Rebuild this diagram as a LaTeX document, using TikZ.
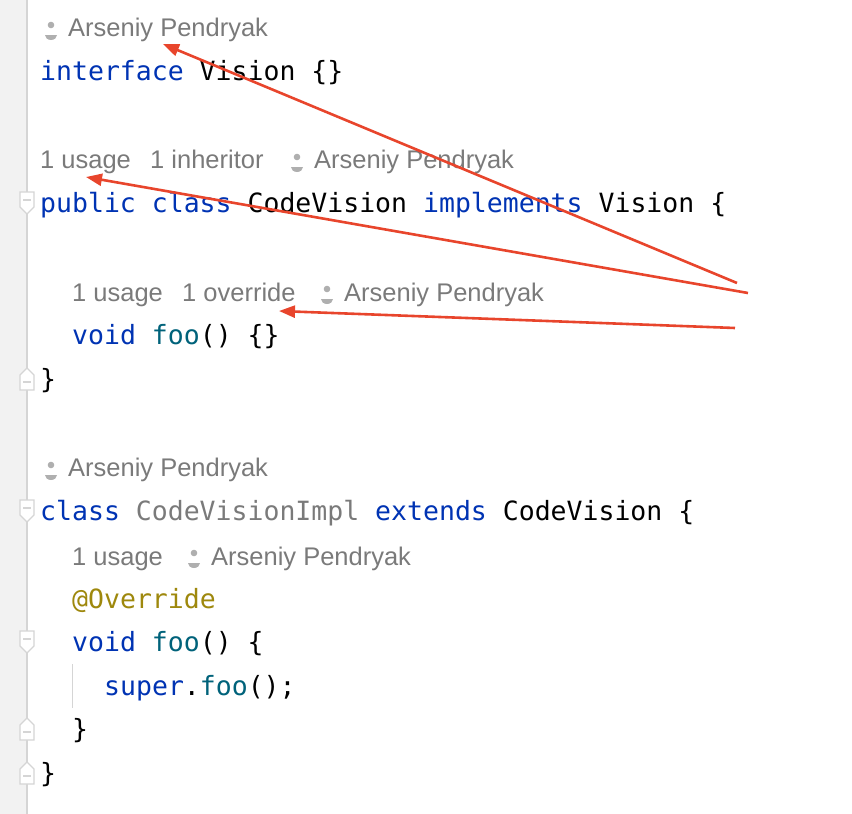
\documentclass[tikz,border=0pt]{standalone}
\usepackage{fontspec}
\setmainfont{Liberation Sans}
\newfontfamily\codefont{DejaVu Sans Mono}
\usetikzlibrary{arrows.meta}
\definecolor{kw}{HTML}{0033B3}
\definecolor{fn}{HTML}{00627A}
\definecolor{hint}{HTML}{7A7A7A}
\definecolor{ann}{HTML}{9E880D}
\definecolor{arr}{HTML}{E8452C}
\definecolor{gut}{HTML}{F2F2F2}
\definecolor{gline}{HTML}{D5D5D5}
\tikzset{
 code/.style={anchor=base west,inner sep=0pt,font=\codefont\fontsize{26.5}{26.5}\selectfont},
 hnt/.style={anchor=base west,inner sep=0pt,text=hint,font=\fontsize{25.5}{25.5}\selectfont},
 pointer/.style={draw=arr,line width=2.6pt,-{Triangle[length=16pt,width=12pt]}},
 fold/.style={draw=gline,fill=white,line width=1.2pt},
}
\newcommand{\person}[2]{\fill[hint!60] (#1,#2-3) circle (3.3) (#1-6,#2+7) arc(180:0:6 and 5) -- cycle;}
\newcommand{\foldtop}[1]{\draw[fold] (20,#1-11) -- (34,#1-11) -- (34,#1+4) -- (27,#1+11) -- (20,#1+4) -- cycle; \draw[gline,line width=1.2pt] (23,#1-3) -- (31,#1-3);}
\newcommand{\foldbot}[1]{\draw[fold] (20,#1+11) -- (34,#1+11) -- (34,#1-4) -- (27,#1-11) -- (20,#1-4) -- cycle; \draw[gline,line width=1.2pt] (23,#1+3) -- (31,#1+3);}
\begin{document}
\begin{tikzpicture}[x=1pt,y=-1pt]
\useasboundingbox (0,0) rectangle (852,814);
\fill[gut] (0,0) rectangle (27,814);
\draw[gline,line width=1.5pt] (27,0) -- (27,814);
\draw[gline,line width=1pt] (72,664) -- (72,708);
\foldtop{203}\foldbot{379}\foldtop{511}\foldtop{642}\foldbot{729}\foldbot{773}
% hints
\person{51}{28}
\node[hnt] (h1) at (68,36) {Arseniy Pendryak};
\node[hnt] (h2) at (40,168) {1 usage};
\node[hnt] (h3) at (150,168) {1 inheritor};
\person{297}{160}
\node[hnt] (h4) at (314,168) {Arseniy Pendryak};
\node[hnt] (h5) at (72,301) {1 usage};
\node[hnt] (h6) at (182,301) {1 override};
\person{327}{292}
\node[hnt] (h7) at (344,301) {Arseniy Pendryak};
\person{51}{468}
\node[hnt] (h8) at (68,476) {Arseniy Pendryak};
\node[hnt] (h9) at (72,565) {1 usage};
\person{194}{556}
\node[hnt] (h10) at (211,565) {Arseniy Pendryak};
% code
\node[code] (c1) at (40,80) {\textcolor{kw}{interface} Vision \{\}};
\node[code] (c2) at (40,212) {\textcolor{kw}{public class} CodeVision \textcolor{kw}{implements} Vision \{};
\node[code] (c3) at (72,344) {\textcolor{kw}{void} \textcolor{fn}{foo}() \{\}};
\node[code] (c4) at (40,388) {\}};
\node[code] (c5) at (40,520) {\textcolor{kw}{class} \textcolor{hint}{CodeVisionImpl} \textcolor{kw}{extends} CodeVision \{};
\node[code] (c6) at (72,608) {\textcolor{ann}{@Override}};
\node[code] (c7) at (72,651) {\textcolor{kw}{void} \textcolor{fn}{foo}() \{};
\node[code] (c8) at (104,695) {\textcolor{kw}{super}.\textcolor{fn}{foo}();};
\node[code] (c9) at (72,738) {\}};
\node[code] (c10) at (40,782) {\}};
% arrows
\coordinate (s1) at (737,283); \coordinate (t1) at (163,44);
\coordinate (s2) at (748,293); \coordinate (t2) at (86,177);
\coordinate (s3) at (735,328); \coordinate (t3) at (279,311);
\draw[pointer] (s1) -- (t1);
\draw[pointer] (s2) -- (t2);
\draw[pointer] (s3) -- (t3);
\end{tikzpicture}
\end{document}
